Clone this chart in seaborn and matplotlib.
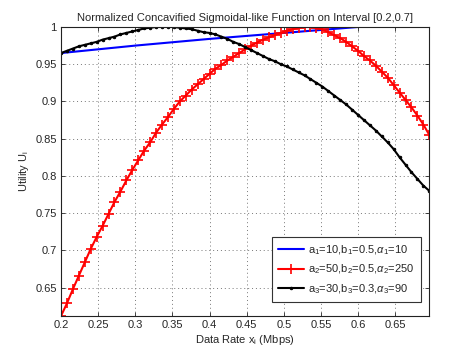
import numpy as np
import matplotlib
matplotlib.use('Agg')
import matplotlib.pyplot as plt
import seaborn as sns

# sampling grid used by the curves (0.2:0.008:0.7)
x_grid = np.linspace(0.2, 0.696, 63)

red_u = [0.612, 0.629, 0.648, 0.666, 0.684, 0.702, 0.718, 0.733, 0.749, 0.765,
         0.779, 0.794, 0.808, 0.821, 0.834, 0.845, 0.858, 0.869, 0.879, 0.890,
         0.900, 0.908, 0.916, 0.923, 0.930, 0.937, 0.944, 0.949, 0.955, 0.960,
         0.965, 0.970, 0.975, 0.979, 0.983, 0.986, 0.989, 0.992, 0.995, 0.997,
         0.999, 1.000, 1.000, 0.999, 0.997, 0.993, 0.989, 0.985, 0.980, 0.974,
         0.968, 0.961, 0.955, 0.948, 0.940, 0.932, 0.922, 0.912, 0.902, 0.892,
         0.881, 0.869, 0.855]

black_u = [0.965, 0.968, 0.971, 0.974, 0.976, 0.978, 0.980, 0.983, 0.985, 0.987,
           0.990, 0.992, 0.994, 0.996, 0.998, 0.999, 1.000, 1.000, 1.000, 1.000,
           0.999, 0.998, 0.997, 0.995, 0.993, 0.992, 0.990, 0.987, 0.984, 0.980,
           0.977, 0.973, 0.969, 0.965, 0.961, 0.957, 0.954, 0.950, 0.947, 0.943,
           0.939, 0.935, 0.930, 0.925, 0.920, 0.914, 0.908, 0.902, 0.896, 0.889,
           0.882, 0.875, 0.868, 0.861, 0.853, 0.845, 0.836, 0.825, 0.815, 0.805,
           0.796, 0.787, 0.780]

blue_x = [0.2, 0.3, 0.4, 0.5, 0.6]
blue_u = [0.965, 0.975, 0.984, 0.992, 1.0]

labels = [r'$\mathrm{a}_1$=10,$\mathrm{b}_1$=0.5,$\alpha_1$=10',
          r'$\mathrm{a}_2$=50,$\mathrm{b}_2$=0.5,$\alpha_2$=250',
          r'$\mathrm{a}_3$=30,$\mathrm{b}_3$=0.3,$\alpha_3$=90']

sns.set_style('ticks')
plt.rcParams['font.family'] = ['Liberation Sans', 'DejaVu Sans']
plt.rcParams['mathtext.fontset'] = 'custom'
plt.rcParams['mathtext.rm'] = 'Liberation Sans'
plt.rcParams['mathtext.it'] = 'Liberation Sans:italic'
plt.rcParams['font.size'] = 8

fig = plt.figure(figsize=(4.74, 3.55), dpi=100)
ax = fig.add_axes([0.1287, 0.1099, 0.777, 0.8141])

sns.lineplot(x=blue_x, y=blue_u, color='#0000ff', lw=1.5, ax=ax, label=labels[0])
sns.lineplot(x=x_grid, y=red_u, color='#ff0000', lw=1.5, marker='+', markersize=6.5,
             markeredgewidth=1.2, markeredgecolor='#ff0000', ax=ax, label=labels[1])
sns.lineplot(x=x_grid, y=black_u, color='black', lw=1.5, marker='.', markersize=3.5,
             markeredgecolor='black', ax=ax, label=labels[2])

ax.set_xlim(0.2, 0.696)
ax.set_ylim(0.612, 1.0)
ax.set_xticks(np.arange(0.2, 0.66, 0.05))
ax.set_xticklabels(['0.2', '0.25', '0.3', '0.35', '0.4', '0.45', '0.5', '0.55', '0.6', '0.65'])
ax.set_yticks(np.arange(0.65, 1.001, 0.05))
ax.set_yticklabels(['0.65', '0.7', '0.75', '0.8', '0.85', '0.9', '0.95', '1'])
ax.grid(True, linestyle=(0, (1, 3)), color='#777777', linewidth=0.7)
ax.tick_params(direction='in', top=True, right=True, length=3, width=0.6, labelsize=8, pad=3)
for s in ax.spines.values():
    s.set_linewidth(0.8)
    s.set_color('#222222')

ax.set_title('Normalized Concavified Sigmoidal-like Function on Interval [0.2,0.7]', fontsize=8, pad=4)
ax.set_xlabel(r'Data Rate x$_\mathrm{i}$ (Mbps)', fontsize=8, labelpad=2)
ax.set_ylabel(r'Utility U$_\mathrm{i}$', fontsize=8, labelpad=3)

leg = ax.legend(loc='lower right', bbox_to_anchor=(0.9775, 0.048), fontsize=8, frameon=True,
                fancybox=False, edgecolor='#333333', framealpha=1, borderaxespad=0,
                handlelength=2.3, handletextpad=0.4, labelspacing=0.55, borderpad=0.55)
leg.get_frame().set_linewidth(0.8)

fig.savefig('out.png', dpi=100, facecolor='white')
